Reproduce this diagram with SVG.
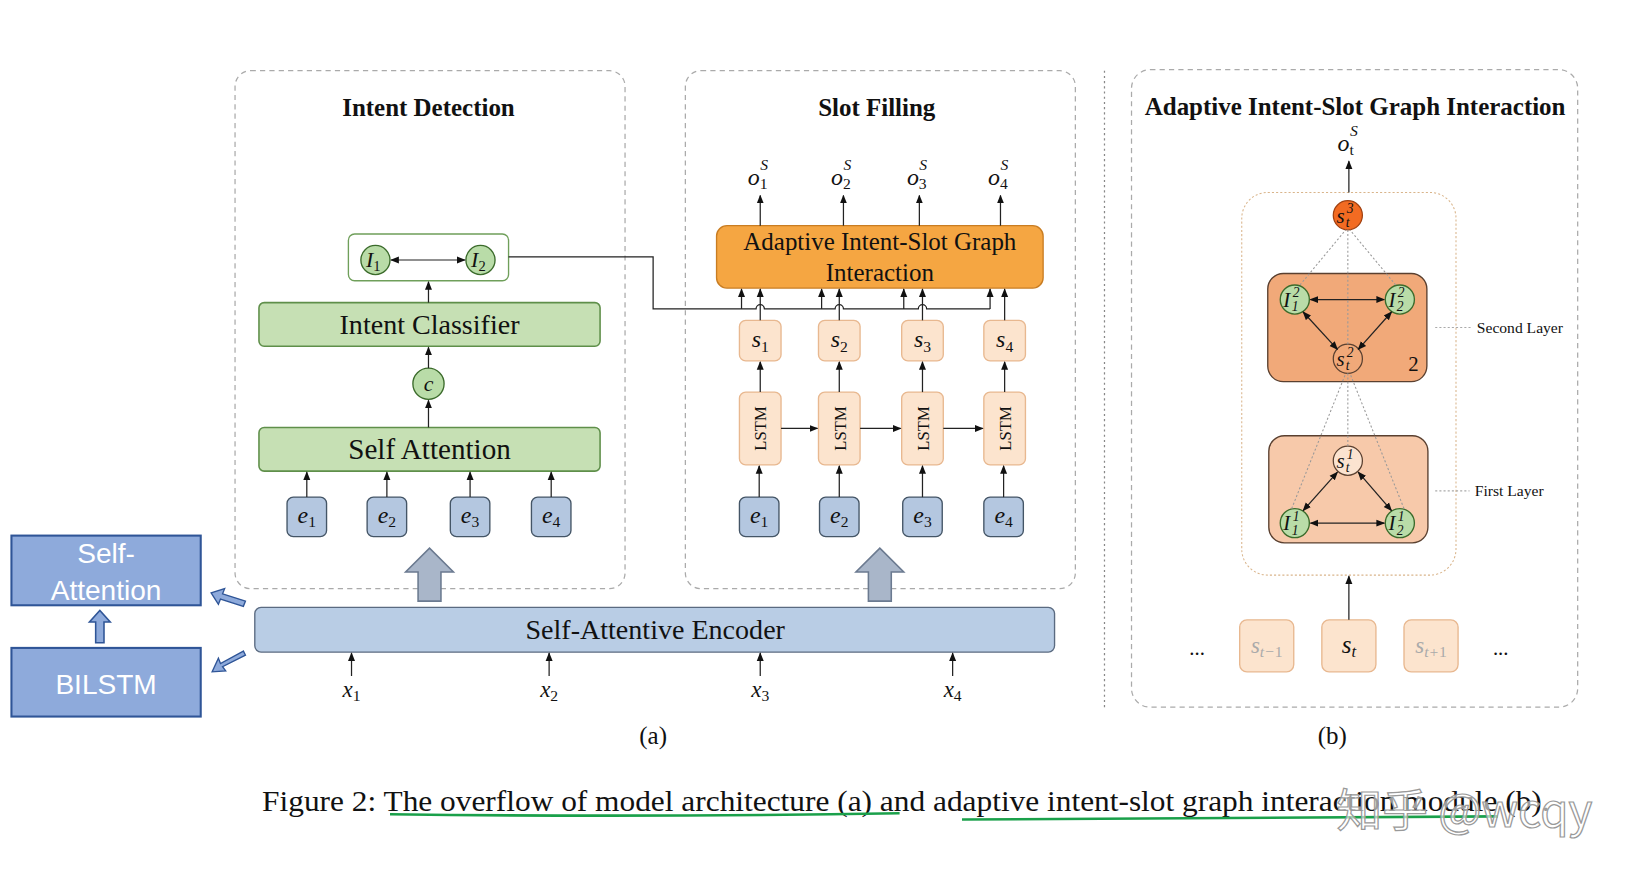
<svg xmlns="http://www.w3.org/2000/svg" width="1632" height="878" viewBox="0 0 1632 878">
<defs>
<style>
.t{font-family:"Liberation Serif",serif;fill:#111}
.m{font-family:"Liberation Serif",serif;font-style:italic;fill:#111}
.m tspan.n{font-style:normal}
.ln{stroke:#222;stroke-width:1.2;fill:none}
.dash{fill:none;stroke:#aaa;stroke-width:1.2;stroke-dasharray:5 4}
.grn{fill:#c6e0b4;stroke:#5f8f4a;stroke-width:1.5}
.eb{fill:#b4c7e0;stroke:#445566;stroke-width:1.3}
.sb{fill:#fce4ce;stroke:#e8b890;stroke-width:1.3}
.gc{fill:#b9dca8;stroke:#3b6b2b;stroke-width:1.3}
.dot{stroke:#999;stroke-width:1;stroke-dasharray:2 2;fill:none}
.blk{fill:#a9b6c9;stroke:#6b7a90;stroke-width:1.5}
.lb{fill:#8eaadb;stroke:#2f5597;stroke-width:2}
</style>
<marker id="a" viewBox="0 0 10 10" refX="9" refY="5" markerWidth="7" markerHeight="7" orient="auto-start-reverse"><path d="M0,1L10,5L0,9z" fill="#111"/></marker>
</defs>
<rect width="1632" height="878" fill="#fff"/>
<g transform="scale(1.04)">
<g id="intent-detection">
<rect class="dash" x="226" y="68" width="375" height="498" rx="15"/>
<text class="t" x="412" y="112" font-size="24" font-weight="bold" text-anchor="middle">Intent Detection</text>
</g>
<g id="intent-nodes">
<rect x="335" y="225" width="154" height="45" rx="6" fill="#fff" stroke="#6f9f5a" stroke-width="1.3"/>
<circle class="gc" cx="361" cy="250" r="14"/><text class="m" x="359" y="257" font-size="21" text-anchor="middle">I<tspan class="n" font-size="14" dy="4">1</tspan></text>
<circle class="gc" cx="462" cy="250" r="14"/><text class="m" x="460" y="257" font-size="21" text-anchor="middle">I<tspan class="n" font-size="14" dy="4">2</tspan></text>
</g>
<g id="intent-classifier"><rect class="grn" x="249" y="291" width="328" height="42" rx="5"/><text class="t" x="413" y="321" font-size="27" text-anchor="middle">Intent Classifier</text></g>
<g id="c-node"><circle class="gc" cx="412" cy="369" r="15"/><text class="m" x="412" y="376" font-size="21" text-anchor="middle">c</text></g>
<g id="self-attention"><rect class="grn" x="249" y="411" width="328" height="42" rx="5"/><text class="t" x="413" y="441" font-size="28" text-anchor="middle">Self Attention</text></g>
<g id="intent-e">
<rect class="eb" x="276" y="478" width="38" height="38" rx="6"/><text class="m" x="295" y="503" font-size="23" text-anchor="middle">e<tspan class="n" font-size="15" dy="4">1</tspan></text>
<rect class="eb" x="353" y="478" width="38" height="38" rx="6"/><text class="m" x="372" y="503" font-size="23" text-anchor="middle">e<tspan class="n" font-size="15" dy="4">2</tspan></text>
<rect class="eb" x="433" y="478" width="38" height="38" rx="6"/><text class="m" x="452" y="503" font-size="23" text-anchor="middle">e<tspan class="n" font-size="15" dy="4">3</tspan></text>
<rect class="eb" x="511" y="478" width="38" height="38" rx="6"/><text class="m" x="530" y="503" font-size="23" text-anchor="middle">e<tspan class="n" font-size="15" dy="4">4</tspan></text>
</g>
<g id="slot-filling">
<rect class="dash" x="659" y="68" width="375" height="498" rx="15"/>
<text class="t" x="843" y="112" font-size="24" font-weight="bold" text-anchor="middle">Slot Filling</text>
</g>
<g id="outputs" class="m" font-size="23">
<text x="719" y="178">o<tspan class="n" font-size="15" dy="4">1</tspan></text><text class="m" x="731" y="163" font-size="15">S</text>
<text x="799" y="178">o<tspan class="n" font-size="15" dy="4">2</tspan></text><text class="m" x="811" y="163" font-size="15">S</text>
<text x="872" y="178">o<tspan class="n" font-size="15" dy="4">3</tspan></text><text class="m" x="884" y="163" font-size="15">S</text>
<text x="950" y="178">o<tspan class="n" font-size="15" dy="4">4</tspan></text><text class="m" x="962" y="163" font-size="15">S</text>
</g>
<g id="aisgi"><rect x="689" y="217" width="314" height="60" rx="10" fill="#f5a642" stroke="#c97d22" stroke-width="1.3"/>
<text class="t" x="846" y="240" font-size="24" text-anchor="middle">Adaptive Intent-Slot Graph</text>
<text class="t" x="846" y="270" font-size="24" text-anchor="middle">Interaction</text></g>
<g id="slot-s">
<rect class="sb" x="711" y="308" width="40" height="39" rx="6"/><text class="m" x="731" y="334" font-size="23" text-anchor="middle">s<tspan class="n" font-size="15" dy="4">1</tspan></text>
<rect class="sb" x="787" y="308" width="40" height="39" rx="6"/><text class="m" x="807" y="334" font-size="23" text-anchor="middle">s<tspan class="n" font-size="15" dy="4">2</tspan></text>
<rect class="sb" x="867" y="308" width="40" height="39" rx="6"/><text class="m" x="887" y="334" font-size="23" text-anchor="middle">s<tspan class="n" font-size="15" dy="4">3</tspan></text>
<rect class="sb" x="946" y="308" width="40" height="39" rx="6"/><text class="m" x="966" y="334" font-size="23" text-anchor="middle">s<tspan class="n" font-size="15" dy="4">4</tspan></text>
</g>
<g id="lstm" class="t" font-size="16">
<rect class="sb" x="711" y="377" width="40" height="70" rx="6"/><text transform="translate(737,412) rotate(-90)" text-anchor="middle">LSTM</text>
<rect class="sb" x="787" y="377" width="40" height="70" rx="6"/><text transform="translate(813,412) rotate(-90)" text-anchor="middle">LSTM</text>
<rect class="sb" x="867" y="377" width="40" height="70" rx="6"/><text transform="translate(893,412) rotate(-90)" text-anchor="middle">LSTM</text>
<rect class="sb" x="946" y="377" width="40" height="70" rx="6"/><text transform="translate(972,412) rotate(-90)" text-anchor="middle">LSTM</text>
</g>
<g id="slot-e">
<rect class="eb" x="711" y="478" width="38" height="38" rx="6"/><text class="m" x="730" y="503" font-size="23" text-anchor="middle">e<tspan class="n" font-size="15" dy="4">1</tspan></text>
<rect class="eb" x="788" y="478" width="38" height="38" rx="6"/><text class="m" x="807" y="503" font-size="23" text-anchor="middle">e<tspan class="n" font-size="15" dy="4">2</tspan></text>
<rect class="eb" x="868" y="478" width="38" height="38" rx="6"/><text class="m" x="887" y="503" font-size="23" text-anchor="middle">e<tspan class="n" font-size="15" dy="4">3</tspan></text>
<rect class="eb" x="946" y="478" width="38" height="38" rx="6"/><text class="m" x="965" y="503" font-size="23" text-anchor="middle">e<tspan class="n" font-size="15" dy="4">4</tspan></text>
</g>
<g id="encoder"><rect x="245" y="584" width="769" height="43" rx="6" fill="#b9cde5" stroke="#5a6a80" stroke-width="1.3"/>
<text class="t" x="630" y="614" font-size="27" text-anchor="middle">Self-Attentive Encoder</text></g>
<g id="inputs" class="m" font-size="22" text-anchor="middle">
<text x="338" y="670">x<tspan class="n" font-size="15" dy="4">1</tspan></text>
<text x="528" y="670">x<tspan class="n" font-size="15" dy="4">2</tspan></text>
<text x="731" y="670">x<tspan class="n" font-size="15" dy="4">3</tspan></text>
<text x="916" y="670">x<tspan class="n" font-size="15" dy="4">4</tspan></text>
</g>
<g id="big-arrows">
<path class="blk" d="M402,578V550H390L413,527L436,550H424V578z"/>
<path class="blk" d="M835,578V550H823L846,527L869,550H857V578z"/>
</g>
<g id="left-panel">
<rect class="lb" x="11" y="515" width="182" height="67"/>
<text x="102" y="541" font-family="Liberation Sans,sans-serif" font-size="27" fill="#fff" text-anchor="middle">Self-</text>
<text x="102" y="577" font-family="Liberation Sans,sans-serif" font-size="27" fill="#fff" text-anchor="middle">Attention</text>
<rect class="lb" x="11" y="623" width="182" height="66"/>
<text x="102" y="667" font-family="Liberation Sans,sans-serif" font-size="27" fill="#fff" text-anchor="middle">BILSTM</text>
<path d="M92,618V598H86L96,587L106,598H100V618z" fill="#8eaadb" stroke="#2f5597" stroke-width="1.5"/>
<path d="M236,578L214,571L216,566L203,570L210,581L212,576L234,583z" fill="#8eaadb" stroke="#2f5597" stroke-width="1.3"/>
<path d="M234,626L212,638L210,633L204,646L217,645L214,641L236,630z" fill="#8eaadb" stroke="#2f5597" stroke-width="1.3"/>
</g>
<g id="right-panel">
<line x1="1062" y1="68" x2="1062" y2="682" stroke="#888" stroke-width="1.2" stroke-dasharray="2 3"/>
<rect class="dash" x="1088" y="67" width="429" height="613" rx="18"/>
<text class="t" x="1303" y="111" font-size="24" font-weight="bold" text-anchor="middle">Adaptive Intent-Slot Graph Interaction</text>
<text class="m" x="1286" y="145" font-size="23">o<tspan class="n" font-size="15" dy="4">t</tspan></text><text class="m" x="1298" y="131" font-size="15">S</text>
<rect x="1194" y="185" width="206" height="368" rx="25" fill="none" stroke="#d9b48a" stroke-width="1" stroke-dasharray="2 2"/>
<rect x="1219" y="263" width="153" height="104" rx="15" fill="#f1a979" stroke="#5a4030" stroke-width="1.3"/>
<rect x="1220" y="419" width="153" height="103" rx="15" fill="#f7c9aa" stroke="#5a4030" stroke-width="1.3"/>
<text class="t" x="1420" y="320" font-size="15">Second Layer</text>
<text class="t" x="1418" y="477" font-size="15">First Layer</text>
<text class="t" x="1354" y="357" font-size="20">2</text>
<text class="t" x="1151" y="630" font-size="20" text-anchor="middle">...</text>
<text class="t" x="1443" y="630" font-size="20" text-anchor="middle">...</text>
</g>
<g id="graph-nodes" class="m" font-size="20">
<circle cx="1296" cy="207" r="14" fill="#f26b22" stroke="#a04010" stroke-width="1.2"/><text x="1285" y="214">s</text><text x="1294" y="218" font-size="13">t</text><text x="1295" y="205" font-size="13" class="t">3</text>
<circle class="gc" cx="1245" cy="288" r="14"/><text x="1234" y="295">I</text><text x="1242" y="299" font-size="13" class="t">1</text><text x="1243" y="286" font-size="13" class="t">2</text>
<circle class="gc" cx="1346" cy="288" r="14"/><text x="1335" y="295">I</text><text x="1343" y="299" font-size="13" class="t">2</text><text x="1344" y="286" font-size="13" class="t">2</text>
<circle cx="1296" cy="345" r="14" fill="#f1a979" stroke="#5a4030" stroke-width="1.2"/><text x="1285" y="352">s</text><text x="1294" y="356" font-size="13">t</text><text x="1295" y="343" font-size="13" class="t">2</text>
<circle cx="1296" cy="443" r="14" fill="#fbe3d0" stroke="#5a4030" stroke-width="1.2"/><text x="1285" y="450">s</text><text x="1294" y="454" font-size="13">t</text><text x="1295" y="441" font-size="13" class="t">1</text>
<circle class="gc" cx="1245" cy="503" r="14"/><text x="1234" y="510">I</text><text x="1242" y="514" font-size="13" class="t">1</text><text x="1243" y="501" font-size="13" class="t">1</text>
<circle class="gc" cx="1346" cy="503" r="14"/><text x="1335" y="510">I</text><text x="1343" y="514" font-size="13" class="t">2</text><text x="1344" y="501" font-size="13" class="t">1</text>
</g>
<g id="bottom-s">
<rect class="sb" x="1192" y="596" width="52" height="50" rx="7" stroke="#d9b070"/><text class="m" x="1218" y="628" font-size="22" style="fill:#aaa" text-anchor="middle">s<tspan font-size="15" dy="4">t−<tspan class="n">1</tspan></tspan></text>
<rect class="sb" x="1271" y="596" width="52" height="50" rx="7" stroke="#d9b070"/><text class="m" x="1297" y="628" font-size="24" text-anchor="middle">s<tspan font-size="16" dy="4">t</tspan></text>
<rect class="sb" x="1350" y="596" width="52" height="50" rx="7" stroke="#d9b070"/><text class="m" x="1376" y="628" font-size="22" style="fill:#aaa" text-anchor="middle">s<tspan font-size="15" dy="4">t+<tspan class="n">1</tspan></tspan></text>
</g>
<g id="connectors">
<g class="ln" marker-end="url(#a)">
<line x1="295" y1="478" x2="295" y2="454"/><line x1="372" y1="478" x2="372" y2="454"/><line x1="452" y1="478" x2="452" y2="454"/><line x1="530" y1="478" x2="530" y2="454"/>
<line x1="412" y1="411" x2="412" y2="385"/><line x1="412" y1="354" x2="412" y2="334"/><line x1="412" y1="291" x2="412" y2="271"/>
<line x1="376" y1="250" x2="447" y2="250" marker-start="url(#a)"/>
<line x1="338" y1="650" x2="338" y2="628"/><line x1="528" y1="650" x2="528" y2="628"/><line x1="731" y1="650" x2="731" y2="628"/><line x1="916" y1="650" x2="916" y2="628"/>
<line x1="730" y1="478" x2="730" y2="448"/><line x1="807" y1="478" x2="807" y2="448"/><line x1="887" y1="478" x2="887" y2="448"/><line x1="965" y1="478" x2="965" y2="448"/>
<line x1="731" y1="377" x2="731" y2="348"/><line x1="807" y1="377" x2="807" y2="348"/><line x1="887" y1="377" x2="887" y2="348"/><line x1="966" y1="377" x2="966" y2="348"/>
<line x1="751" y1="412" x2="786" y2="412"/><line x1="827" y1="412" x2="866" y2="412"/><line x1="907" y1="412" x2="945" y2="412"/>
<line x1="731" y1="308" x2="731" y2="278"/><line x1="807" y1="308" x2="807" y2="278"/><line x1="887" y1="308" x2="887" y2="278"/><line x1="966" y1="308" x2="966" y2="278"/>
<line x1="713" y1="297" x2="713" y2="278"/><line x1="790" y1="297" x2="790" y2="278"/><line x1="869" y1="297" x2="869" y2="278"/><line x1="952" y1="297" x2="952" y2="278"/>
<line x1="731" y1="217" x2="731" y2="188"/><line x1="811" y1="217" x2="811" y2="188"/><line x1="884" y1="217" x2="884" y2="188"/><line x1="962" y1="217" x2="962" y2="188"/>
<line x1="1297" y1="596" x2="1297" y2="554"/>
<line x1="1297" y1="185" x2="1297" y2="155"/>
<line x1="1260" y1="288" x2="1331" y2="288" marker-start="url(#a)"/>
<line x1="1253" y1="300" x2="1286" y2="336" marker-start="url(#a)"/>
<line x1="1338" y1="300" x2="1306" y2="336" marker-start="url(#a)"/>
<line x1="1260" y1="503" x2="1331" y2="503" marker-start="url(#a)"/>
<line x1="1253" y1="491" x2="1286" y2="454" marker-start="url(#a)"/>
<line x1="1338" y1="491" x2="1306" y2="454" marker-start="url(#a)"/>
</g>
<path class="ln" d="M489,247H628V297H727a4,4 0 0 1 8,0H803a4,4 0 0 1 8,0H883a4,4 0 0 1 8,0H952"/>
<g class="dot">
<line x1="1296" y1="221" x2="1296" y2="331"/><line x1="1250" y1="274" x2="1294" y2="221"/><line x1="1342" y1="274" x2="1298" y2="221"/>
<line x1="1296" y1="429" x2="1296" y2="359"/><line x1="1242" y1="489" x2="1294" y2="359"/><line x1="1350" y1="489" x2="1298" y2="359"/>
<line x1="1380" y1="315" x2="1415" y2="315" stroke="#aaa"/><line x1="1380" y1="472" x2="1413" y2="472" stroke="#aaa"/>
</g>
</g>
<g id="captions">
<text class="t" x="628" y="715" font-size="24" text-anchor="middle">(a)</text>
<text class="t" x="1281" y="715" font-size="24" text-anchor="middle">(b)</text>
<text class="t" x="252" y="780" font-size="29" textLength="1238" lengthAdjust="spacingAndGlyphs">Figure 2: The overflow of model architecture (a) and adaptive intent-slot graph interaction module (b).</text>
<path d="M375,783Q620,786 865,782" stroke="#1aa04a" stroke-width="2.5" fill="none"/>
<path d="M925,788Q1180,786 1440,785" stroke="#1aa04a" stroke-width="2.5" fill="none"/>
<text x="1285" y="795" font-family="Noto Sans CJK SC,sans-serif" font-size="44" fill="#ffffff" fill-opacity="0.6" stroke="#999" stroke-width="1.2">知乎 @wcqy</text>
</g>
</g>
</svg>
